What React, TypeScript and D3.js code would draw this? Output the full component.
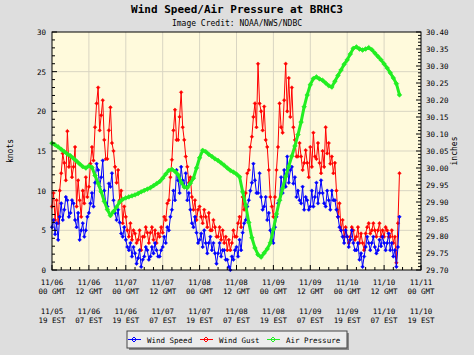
import React from "react";
import * as d3 from "d3";

// half-hourly samples, starting 11/06 00 GMT
const windSpeed = [
  5.4, 6.3, 4.5, 5.9, 3.8, 6.7, 8.4, 6.3, 7.6, 9.2, 8.8, 6.7, 7.2, 8.8, 8.4, 6.3, 5.4, 7.2, 3.8, 5.0,
  5.9, 4.2, 5.0, 6.7, 7.2, 8.4, 9.7, 8.0, 11, 13.4, 12.6, 10.5, 11.7, 13.8, 10, 8.4, 8, 10.9, 10.5, 12.2,
  8.8, 7.2, 6.3, 7.6, 6.0, 4.6, 4.2, 5.4, 3.8, 2.9, 2.5, 3.4, 1.7, 2.9, 2.1, 0.8, 1.5, 2.5, 0.4, 1.3,
  1.7, 2.9, 2.5, 1.3, 1.7, 2.9, 2.1, 3.4, 2.5, 1.7, 1.7, 2.5, 2.9, 4.2, 3.4, 5.4, 5.0, 6.7, 7.6, 10,
  8.8, 12.6, 11.3, 9.7, 13, 11.3, 10.5, 12.2, 8.8, 9.7, 7.6, 5.9, 5.4, 6.7, 4.7, 3.4, 3.8, 4.6, 2.9, 5.0,
  3.4, 2.1, 3.4, 4.2, 2.5, 3.4, 2.1, 0.8, 2.1, 3.4, 1.7, 2.5, 2.5, 1.3, 1.3, 0.4, 0, 1.7, 1.3, 2.5,
  2.9, 1.7, 3.8, 2.5, 4.7, 5.9, 6.3, 8, 8.8, 10, 11, 13.4, 11.3, 9.7, 9.7, 12.2, 9.2, 7.6, 8, 9.2,
  6.3, 7.2, 5, 3.8, 3.4, 5.4, 6.7, 8.4, 8.8, 11.7, 9.7, 12.6, 10.5, 14.3, 11, 12.6, 13, 10.9, 11.7, 9.2,
  10, 8.8, 8.4, 10.5, 7.6, 9.2, 8.8, 7.6, 8, 10, 8, 9.2, 11, 8.4, 9.7, 11.3, 9.7, 8.4, 8, 10,
  8.8, 7.6, 10, 8.8, 8.8, 7.6, 6.7, 5.4, 5, 4.2, 3.4, 5.0, 4.2, 2.9, 3.8, 5.0, 3.4, 2.5, 2.5, 3.4,
  1.3, 2.1, 0.4, 1.7, 2.9, 4.2, 3.4, 2.5, 3.4, 4.2, 2.9, 2.1, 2.5, 3.8, 3.0, 4.2, 3.4, 2.5, 3.4, 4.6,
  2.5, 3.4, 1.7, 2.5, 0.4, 2.9, 6.7,
];
const windGust = [
  8, 9.7, 6.3, 8.8, 5.9, 10, 12.2, 14.7, 13.5, 11.3, 17.5, 13, 14.3, 11.7, 13, 15.5, 8, 11.3, 8.8, 6.7,
  10, 8.4, 11.7, 9.2, 10.5, 13.4, 15.5, 13.8, 18, 21, 23, 17.6, 19.5, 21.4, 16.4, 14, 14, 17.6, 20.5, 16,
  15, 13, 11, 12.6, 8.8, 10, 5.9, 8, 6.7, 5, 4.2, 5.9, 3.8, 5, 4.6, 3.4, 3.8, 5, 2.5, 4.2,
  4.2, 5.4, 4.7, 3.4, 4.7, 5.4, 3.8, 5, 3.4, 4.6, 4.2, 5.4, 4.7, 6.7, 6.3, 8.4, 8.8, 11.7, 13.9, 17.6,
  20.2, 16.4, 16.4, 19.3, 22.4, 18, 16.4, 14.3, 13, 11, 11.7, 9.2, 7.6, 8.8, 6.3, 7.6, 8, 6.7, 5.9, 7.6,
  6.7, 5.4, 7.2, 5, 5, 6.3, 5.4, 4.2, 4.2, 5.4, 3.8, 5, 3.4, 4.2, 2.5, 3.8, 2.5, 3.4, 5, 4.2,
  4.2, 5.9, 6.7, 5.4, 9.2, 7.6, 9.7, 12.2, 12.6, 15.5, 16.8, 19.3, 21, 18, 26, 21, 20, 17.6, 20.6, 16.4,
  15.5, 12.6, 9.2, 8, 6.7, 9.2, 12.6, 15.5, 21, 18, 17.3, 21.4, 26, 20, 24.2, 19.3, 23, 18, 16.4, 14.3,
  14.3, 16, 14.3, 12.6, 13.5, 15.1, 13.5, 11.7, 15.5, 13, 17.3, 14.3, 14, 16, 13.5, 12.2, 15, 13, 18, 14.7,
  16, 13.4, 14.3, 12.2, 13.5, 10, 6.7, 8.4, 5, 6.3, 4.2, 5.4, 4.2, 3.4, 4.2, 5.4, 5, 3.8, 4.2, 5.4,
  3.4, 4.6, 3.4, 2.5, 4.6, 5.4, 5.9, 4.6, 5, 5.9, 5, 4.2, 5, 5.9, 4.2, 5, 4.2, 5.4, 5, 4.2,
  4.2, 5, 3.4, 4.2, 0.9, 5.9, 12.2,
];
// hourly samples
const airPressure = [
  30.073, 30.068, 30.062, 30.055, 30.048, 30.041, 30.036, 30.028, 30.02, 30.012, 30.004, 30.0, 30.006, 30.002,
  29.978, 29.955, 29.93, 29.902, 29.878, 29.86, 29.872, 29.885, 29.9, 29.908, 29.912, 29.915, 29.918, 29.921,
  29.925, 29.93, 29.934, 29.938, 29.942, 29.948, 29.954, 29.96, 29.97, 29.982, 29.993, 29.996, 29.99, 29.98,
  29.958, 29.944, 29.942, 29.955, 29.97, 30.0, 30.03, 30.052, 30.048, 30.04, 30.034, 30.027, 30.022, 30.015,
  30.008, 30.0, 29.993, 29.988, 29.982, 29.974, 29.93, 29.89, 29.84, 29.795, 29.765, 29.745, 29.738, 29.75,
  29.762, 29.78, 29.82, 29.865, 29.905, 29.94, 29.975, 30.005, 30.035, 30.065, 30.098, 30.135, 30.18, 30.215,
  30.245, 30.263, 30.268, 30.262, 30.258, 30.25, 30.242, 30.238, 30.255, 30.272, 30.288, 30.305, 30.318,
  30.335, 30.352, 30.356, 30.35, 30.347, 30.35, 30.354, 30.348, 30.338, 30.328, 30.318, 30.306, 30.294,
  30.28, 30.265, 30.248, 30.215,
];
const gmtLabels = [
  ["11/06", "00 GMT"], ["11/06", "12 GMT"], ["11/07", "00 GMT"], ["11/07", "12 GMT"], ["11/08", "00 GMT"],
  ["11/08", "12 GMT"], ["11/09", "00 GMT"], ["11/09", "12 GMT"], ["11/10", "00 GMT"], ["11/10", "12 GMT"],
  ["11/11", "00 GMT"],
];
const estLabels = [
  ["11/05", "19 EST"], ["11/06", "07 EST"], ["11/06", "19 EST"], ["11/07", "07 EST"], ["11/07", "19 EST"],
  ["11/08", "07 EST"], ["11/08", "19 EST"], ["11/09", "07 EST"], ["11/09", "19 EST"], ["11/10", "07 EST"],
  ["11/10", "19 EST"],
];
const knotTicks = [0, 5, 10, 15, 20, 25, 30];
const inchTicks = ["29.70", "29.75", "29.80", "29.85", "29.90", "29.95", "30.00", "30.05", "30.10", "30.15", "30.20", "30.25", "30.30", "30.35", "30.40"];
const legendItems = [
  { name: "Wind Speed", color: "#0000ff" },
  { name: "Wind Gust", color: "#ff0000" },
  { name: "Air Pressure", color: "#22ee22" },
];

const W = 474, H = 355;
const L = 52, R = 421, T = 32, B = 270;
const FONT = "'DejaVu Sans Mono', monospace";

const x = d3.scaleLinear().domain([0, 120]).range([L, R]);
const yK = d3.scaleLinear().domain([0, 30]).range([B, T]);
const yP = d3.scaleLinear().domain([29.7, 30.4]).range([B, T]);

const diamond = (cx: number, cy: number, r: number) =>
  `M${cx},${cy - r}L${cx + r},${cy}L${cx},${cy + r}L${cx - r},${cy}Z`;

function Series({ data, step, y, color, width, r }: { data: number[]; step: number; y: d3.ScaleLinear<number, number>; color: string; width: number; r: number }) {
  const line = d3.line<number>().x((_, i) => x(i * step)).y((d) => y(d));
  return (
    <g>
      <path d={line(data) || ""} fill="none" stroke={color} strokeWidth={width} strokeLinejoin="round" />
      {data.map((d, i) => (
        <path key={i} d={diamond(x(i * step), y(d), r)} fill={color} stroke={color} strokeWidth={0.5} />
      ))}
    </g>
  );
}

export default function App() {
  const hourTicks = d3.range(0, 121, 3);
  const knotMinor = d3.range(0, 31, 1);
  const inchMinor = d3.range(0, 71, 1).map((i) => 29.7 + i * 0.01);
  const legX = 127, legY = 331, legW = 220, legH = 17;
  const legPos = [
    { m: 134, t: 147 },
    { m: 206, t: 219 },
    { m: 273, t: 286 },
  ];
  return (
    <svg width={W} height={H} style={{ position: "absolute", left: 0, top: 0 }} fontFamily={FONT}>
      <rect x={0} y={0} width={W} height={H} fill="#dedede" />
      <text x={237} y={13} textAnchor="middle" fontSize={11} fontWeight="bold" fill="#000">Wind Speed/Air Pressure at BRHC3</text>
      <text x={237} y={26} textAnchor="middle" fontSize={8} fill="#000">Image Credit: NOAA/NWS/NDBC</text>
      <rect x={L} y={T} width={R - L} height={B - T} fill="#fffadc" />
      {d3.range(12, 120, 12).map((h) => (
        <line key={"vg" + h} x1={x(h)} x2={x(h)} y1={T} y2={B} stroke="#d9d5c2" strokeWidth={1} />
      ))}
      {knotTicks.slice(1, -1).map((k) => (
        <line key={"hg" + k} x1={L} x2={R} y1={yK(k)} y2={yK(k)} stroke="#d9d5c2" strokeWidth={1} />
      ))}
      <Series data={windGust} step={0.5} y={yK} color="#ff0000" width={1} r={1.8} />
      <Series data={windSpeed} step={0.5} y={yK} color="#0000ff" width={1} r={1.8} />
      <Series data={airPressure} step={1} y={yP} color="#22ee22" width={3} r={2.4} />
      <rect x={L} y={T} width={R - L} height={B - T} fill="none" stroke="#000" strokeWidth={1} />
      {knotMinor.map((k) => (
        <line key={"lt" + k} x1={L} x2={L + (k % 5 === 0 ? 5 : 3)} y1={yK(k)} y2={yK(k)} stroke="#000" />
      ))}
      {inchMinor.map((p, i) => (
        <line key={"rt" + i} x1={R} x2={R - (i % 5 === 0 ? 5 : 3)} y1={yP(p)} y2={yP(p)} stroke="#000" />
      ))}
      {hourTicks.map((h) => (
        <line key={"bt" + h} x1={x(h)} x2={x(h)} y1={B} y2={B - (h % 12 === 0 ? 5 : 3)} stroke="#000" />
      ))}
      {knotTicks.map((k) => (
        <text key={"kl" + k} x={46} y={yK(k) + 3} textAnchor="end" fontSize={7.5} fill="#000">{k}</text>
      ))}
      {inchTicks.map((p) => (
        <text key={"il" + p} x={426} y={yP(+p) + 3} fontSize={7.5} fill="#000">{p}</text>
      ))}
      {gmtLabels.map((lab, i) => (
        <g key={"g" + i}>
          <text x={x(i * 12)} y={285} textAnchor="middle" fontSize={7.5}>{lab[0]}</text>
          <text x={x(i * 12)} y={294} textAnchor="middle" fontSize={7.5}>{lab[1]}</text>
        </g>
      ))}
      {estLabels.map((lab, i) => (
        <g key={"e" + i}>
          <text x={x(i * 12)} y={314} textAnchor="middle" fontSize={7.5}>{lab[0]}</text>
          <text x={x(i * 12)} y={323} textAnchor="middle" fontSize={7.5}>{lab[1]}</text>
        </g>
      ))}
      <text transform="translate(13,151) rotate(-90)" textAnchor="middle" fontSize={8}>knots</text>
      <text transform="translate(457,151) rotate(-90)" textAnchor="middle" fontSize={8}>inches</text>
      <rect x={legX + 2} y={legY + 2} width={legW} height={legH} fill="#888" />
      <rect x={legX} y={legY} width={legW} height={legH} fill="#ececec" stroke="#444" strokeWidth={1} />
      {legendItems.map((it, i) => (
        <g key={it.name}>
          <line x1={legPos[i].m - 6} x2={legPos[i].m + 7} y1={legY + 8.5} y2={legY + 8.5} stroke={it.color} strokeWidth={1} />
          <path d={diamond(legPos[i].m, legY + 8.5, 2.5)} fill="none" stroke={it.color} strokeWidth={1} />
          <text x={legPos[i].t} y={legY + 11.5} fontSize={7.5}>{it.name}</text>
        </g>
      ))}
    </svg>
  );
}
